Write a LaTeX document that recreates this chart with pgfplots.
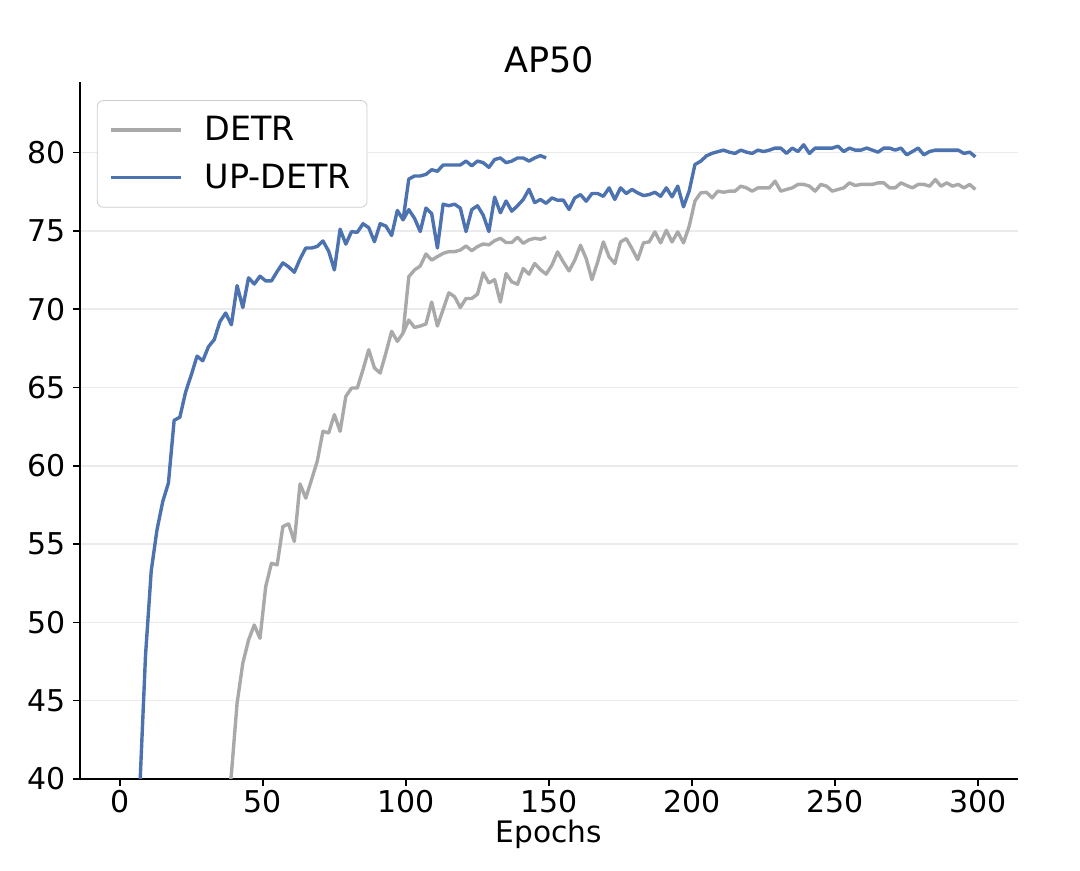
\documentclass[border=0pt]{standalone}
\usepackage{fontspec}
\setmainfont{DejaVu Sans}
\usepackage{pgfplots}
\pgfplotsset{compat=1.18}
\definecolor{updetr}{HTML}{4C72B0}
\definecolor{detr}{HTML}{A9A9A9}
\definecolor{gridc}{HTML}{EBEBEB}
\begin{document}
\begin{tikzpicture}
\begin{axis}[
 scale only axis, width=469pt, height=348.5pt,
 xmin=-13.9, xmax=313.9, ymin=40, ymax=84.5,
 axis x line*=bottom, axis y line*=left,
 axis line style={line width=0.8pt, black},
 xtick={0,50,...,300}, ytick={40,45,...,80},
 tick align=outside, major tick length=3.5pt,
 tick style={line width=0.8pt, black},
 ymajorgrids, grid style={gridc, line width=0.8pt},
 tick label style={font=\fontsize{15}{17}\selectfont},
 xticklabel style={yshift=1.5pt},
 /pgf/number format/assume math mode=true,
 xlabel={Epochs}, label style={font=\fontsize{14.8}{17}\selectfont},
 xlabel style={yshift=3pt},
 title={AP50}, title style={font=\fontsize{17.5}{20}\selectfont, yshift=-5pt},
 legend style={at={(axis description cs:0.018,0.974)}, anchor=north west, draw=black!20, rounded corners=3pt, font=\fontsize{16.7}{20}\selectfont, inner xsep=6pt, inner ysep=6pt, row sep=6pt},
 legend cell align=left,
 legend image code/.code={\draw[#1] (0pt,0pt) -- (35pt,0pt); \path (44pt,0pt);},
 every axis plot/.append style={line width=1.7pt, line join=round},
]
% DETR 300 epochs
\addplot[detr] coordinates {
(35,35.0) (37,37.5) (39,40.3) (41,44.84) (43,47.4) (45,48.87) (47,49.83) (49,48.98)
(51,52.28) (53,53.77) (55,53.67) (57,56.12) (59,56.29) (61,55.16) (63,58.84) (65,57.93)
(67,59.10) (69,60.28) (71,62.20) (73,62.09) (75,63.26) (77,62.20) (79,64.43) (81,64.96)
(83,64.96) (85,66.13) (87,67.41) (89,66.24) (91,65.92) (93,67.20) (95,68.58) (97,67.94)
(99,68.47) (101,69.30) (103,68.83) (105,68.92) (107,69.05) (109,70.45) (111,68.92) (113,69.98)
(115,71.04) (117,70.79) (119,70.10) (121,70.68) (123,70.68) (125,70.95) (127,72.31) (129,71.67)
(131,71.88) (133,70.45) (135,72.27) (137,71.74) (139,71.59) (141,72.59) (143,72.23) (145,72.91)
(147,72.52) (149,72.23) (151,72.80) (153,73.65) (155,73.01) (157,72.44) (159,73.12) (161,74.08)
(163,73.22) (165,71.88) (167,73.01) (169,74.29) (171,73.33) (173,72.91) (175,74.29) (177,74.50)
(179,73.86) (181,73.16) (183,74.23) (185,74.29) (187,74.93) (189,74.23) (191,75.03) (193,74.29)
(195,74.93) (197,74.23) (199,75.30) (201,76.90) (203,77.42) (205,77.46) (207,77.10) (209,77.53)
(211,77.46) (213,77.53) (215,77.53) (217,77.85) (219,77.74) (221,77.53) (223,77.74) (225,77.74)
(227,77.74) (229,78.17) (231,77.53) (233,77.64) (235,77.74) (237,77.96) (239,77.96) (241,77.85)
(243,77.53) (245,77.96) (247,77.85) (249,77.53) (251,77.64) (253,77.74) (255,78.06) (257,77.89)
(259,77.96) (261,77.96) (263,77.96) (265,78.06) (267,78.06) (269,77.74) (271,77.74) (273,78.06)
(275,77.89) (277,77.74) (279,77.96) (281,77.96) (283,77.85) (285,78.27) (287,77.85) (289,78.06)
(291,77.85) (293,77.96) (295,77.74) (297,77.96) (299,77.64)
};
\addlegendentry{DETR}
% DETR 150 epochs (after lr drop)
\addplot[detr, forget plot] coordinates {
(99,68.47) (101,72.07) (103,72.50) (105,72.75) (107,73.52) (109,73.13) (111,73.35) (113,73.56)
(115,73.67) (117,73.67) (119,73.77) (121,74.03) (123,73.73) (125,73.99) (127,74.16) (129,74.10)
(131,74.37) (133,74.52) (135,74.25) (137,74.25) (139,74.59) (141,74.20) (143,74.42) (145,74.52)
(147,74.46) (149,74.59)
};
% UP-DETR 300 epochs
\addplot[updetr] coordinates {
(5,30.0) (7,39.4) (9,47.9) (11,53.3) (13,55.9) (15,57.7) (17,58.9) (19,62.9)
(21,63.1) (23,64.7) (25,65.8) (27,67.0) (29,66.7) (31,67.6) (33,68.05) (35,69.2)
(37,69.75) (39,69.0) (41,71.5) (43,70.1) (45,72.0) (47,71.6) (49,72.1) (51,71.8)
(53,71.8) (55,72.4) (57,72.95) (59,72.7) (61,72.35) (63,73.2) (65,73.9) (67,73.9)
(69,74.0) (71,74.35) (73,73.7) (75,72.5) (77,75.1) (79,74.15) (81,74.95) (83,74.9)
(85,75.45) (87,75.2) (89,74.3) (91,75.45) (93,75.3) (95,74.7) (97,76.3) (99,75.7)
(101,76.35) (103,75.8) (105,74.95) (107,76.45) (109,76.1) (111,73.9) (113,76.7) (115,76.6)
(117,76.7) (119,76.45) (121,74.95) (123,76.35) (125,76.6) (127,76.0) (129,74.95) (131,77.15)
(133,76.15) (135,76.9) (137,76.25) (139,76.6) (141,77.0) (143,77.65) (145,76.8) (147,77.0)
(149,76.75) (151,77.1) (153,76.95) (155,76.96) (157,76.36) (159,77.1) (161,77.31) (163,76.89)
(165,77.38) (167,77.38) (169,77.2) (171,77.74) (173,77.0) (175,77.74) (177,77.38) (179,77.64)
(181,77.42) (183,77.25) (185,77.31) (187,77.46) (189,77.2) (191,77.74) (193,77.17) (195,77.85)
(197,76.53) (199,77.55) (201,79.23) (203,79.44) (205,79.78) (207,79.95) (209,80.05) (211,80.15)
(213,80.02) (215,79.94) (217,80.15) (219,80.02) (221,79.94) (223,80.15) (225,80.06) (227,80.15)
(229,80.28) (231,80.28) (233,79.94) (235,80.28) (237,80.06) (239,80.49) (241,79.94) (243,80.28)
(245,80.28) (247,80.28) (249,80.28) (251,80.40) (253,80.06) (255,80.28) (257,80.15) (259,80.15)
(261,80.28) (263,80.15) (265,80.02) (267,80.28) (269,80.28) (271,80.15) (273,80.28) (275,79.85)
(277,80.06) (279,80.28) (281,79.85) (283,80.06) (285,80.15) (287,80.15) (289,80.15) (291,80.15)
(293,80.15) (295,79.94) (297,80.02) (299,79.72)
};
\addlegendentry{UP-DETR}
% UP-DETR 150 epochs (after lr drop)
\addplot[updetr, forget plot] coordinates {
(99,75.7) (101,78.3) (103,78.5) (105,78.5) (107,78.6) (109,78.9) (111,78.8) (113,79.2)
(115,79.2) (117,79.2) (119,79.2) (121,79.45) (123,79.15) (125,79.45) (127,79.35) (129,79.05)
(131,79.55) (133,79.65) (135,79.35) (137,79.45) (139,79.65) (141,79.65) (143,79.45) (145,79.65)
(147,79.8) (149,79.65)
};
\end{axis}
\pgfresetboundingbox
\path ([shift={(-40pt,-46pt)}]current axis.south west) rectangle ([shift={(31pt,41pt)}]current axis.north east);
\end{tikzpicture}
\end{document}
